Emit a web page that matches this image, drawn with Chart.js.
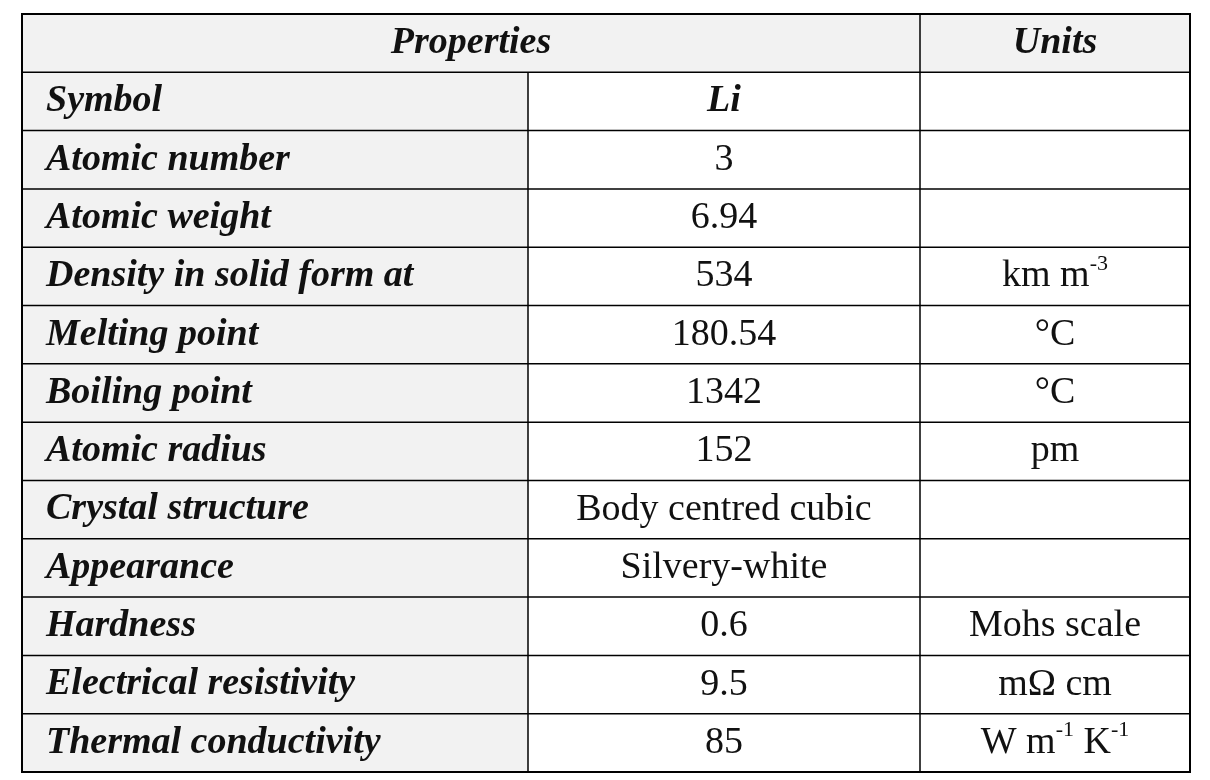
<!DOCTYPE html>
<html>
<head>
<meta charset="utf-8">
<script src="https://cdn.jsdelivr.net/npm/chart.js@4.4.0/dist/chart.umd.min.js"></script>
<style>
  html, body { margin: 0; padding: 0; background: #ffffff; }
  #wrap { width: 1210px; height: 780px; }
</style>
</head>
<body>
<div id="wrap"><canvas id="table-chart"></canvas></div>
<script>
// table content
const headers = ['Properties', 'Units'];
const properties = [
  'Symbol', 'Atomic number', 'Atomic weight', 'Density in solid form at',
  'Melting point', 'Boiling point', 'Atomic radius', 'Crystal structure',
  'Appearance', 'Hardness', 'Electrical resistivity', 'Thermal conductivity'
];
const values = [
  'Li', '3', '6.94', '534', '180.54', '1342', '152', 'Body centred cubic',
  'Silvery-white', '0.6', '9.5', '85'
];
// ^ marks a superscript run up to the next space
const units = [
  '', '', '', 'km m^-3', '°C', '°C', 'pm', '', '', 'Mohs scale', 'mΩ cm', 'W m^-1 K^-1'
];

// column edges in x-scale units (relative widths)
const colEdges = [0, 506, 898, 1168];
const nRows = properties.length + 1;

const serif = '"Liberation Serif", "DejaVu Serif", serif';

function drawRich(ctx, str, cx, cy, size) {
  // split into normal / superscript pieces
  const parts = [];
  str.split(' ').forEach((word, wi) => {
    const pre = wi > 0 ? ' ' : '';
    const k = word.indexOf('^');
    if (k < 0) parts.push({ t: pre + word, sup: false });
    else {
      parts.push({ t: pre + word.slice(0, k), sup: false });
      parts.push({ t: word.slice(k + 1), sup: true });
    }
  });
  const fN = size + 'px ' + serif, fS = Math.round(size * 0.58) + 'px ' + serif;
  let w = 0;
  parts.forEach(p => { ctx.font = p.sup ? fS : fN; p.w = ctx.measureText(p.t).width; w += p.w; });
  let x = cx - w / 2;
  ctx.textAlign = 'left';
  parts.forEach(p => {
    ctx.font = p.sup ? fS : fN;
    ctx.fillText(p.t, x, p.sup ? cy - size * 0.32 : cy);
    x += p.w;
  });
}

const tablePlugin = {
  id: 'tablePlugin',
  afterDraw(chart) {
    const ctx = chart.ctx, xs = chart.scales.x, ys = chart.scales.y;
    const X = v => xs.getPixelForValue(v);
    const Y = v => ys.getPixelForValue(v);
    ctx.save();
    // backgrounds
    ctx.fillStyle = '#f2f2f2';
    ctx.fillRect(X(0), Y(0), X(colEdges[3]) - X(0), Y(1) - Y(0));
    ctx.fillRect(X(0), Y(1), X(colEdges[1]) - X(0), Y(nRows) - Y(1));
    // grid
    ctx.strokeStyle = '#000';
    ctx.lineWidth = 1.5;
    for (let r = 1; r < nRows; r++) {
      ctx.beginPath(); ctx.moveTo(X(0), Y(r)); ctx.lineTo(X(colEdges[3]), Y(r)); ctx.stroke();
    }
    [colEdges[1]].forEach(c => {
      ctx.beginPath(); ctx.moveTo(X(c), Y(1)); ctx.lineTo(X(c), Y(nRows)); ctx.stroke();
    });
    ctx.beginPath(); ctx.moveTo(X(colEdges[2]), Y(0)); ctx.lineTo(X(colEdges[2]), Y(nRows)); ctx.stroke();
    ctx.lineWidth = 2;
    ctx.strokeRect(X(0), Y(0), X(colEdges[3]) - X(0), Y(nRows) - Y(0));
    // text
    ctx.fillStyle = '#111';
    ctx.textBaseline = 'middle';
    ctx.textAlign = 'center';
    ctx.font = 'italic bold 38px ' + serif;
    ctx.fillText(headers[0], (X(0) + X(colEdges[2])) / 2, Y(0.5));
    ctx.fillText(headers[1], (X(colEdges[2]) + X(colEdges[3])) / 2, Y(0.5));
    properties.forEach((p, i) => {
      const cy = Y(i + 1.5);
      ctx.textAlign = 'left';
      ctx.font = 'italic bold 38px ' + serif;
      ctx.fillText(p, X(0) + 24, cy);
      ctx.textAlign = 'center';
      const vx = (X(colEdges[1]) + X(colEdges[2])) / 2;
      if (i === 0) { ctx.font = 'italic bold 38px ' + serif; ctx.fillText(values[i], vx, cy); }
      else drawRich(ctx, values[i], vx, cy, 38);
      if (units[i]) drawRich(ctx, units[i], (X(colEdges[2]) + X(colEdges[3])) / 2, cy, 38);
    });
    ctx.restore();
  }
};

new Chart(document.getElementById('table-chart'), {
  type: 'scatter',
  data: {
    datasets: [{
      data: properties.map((p, i) => ({ x: (colEdges[0] + colEdges[1]) / 2, y: i + 1.5 })),
      pointRadius: 0
    }]
  },
  options: {
    responsive: true,
    maintainAspectRatio: false,
    animation: false,
    layout: { padding: { left: 22, right: 20, top: 14, bottom: 8 } },
    plugins: { legend: { display: false }, tooltip: { enabled: false } },
    scales: {
      x: { type: 'linear', min: colEdges[0], max: colEdges[3], display: false },
      y: { type: 'linear', min: 0, max: nRows, reverse: true, display: false }
    }
  },
  plugins: [tablePlugin]
});
</script>
</body>
</html>
